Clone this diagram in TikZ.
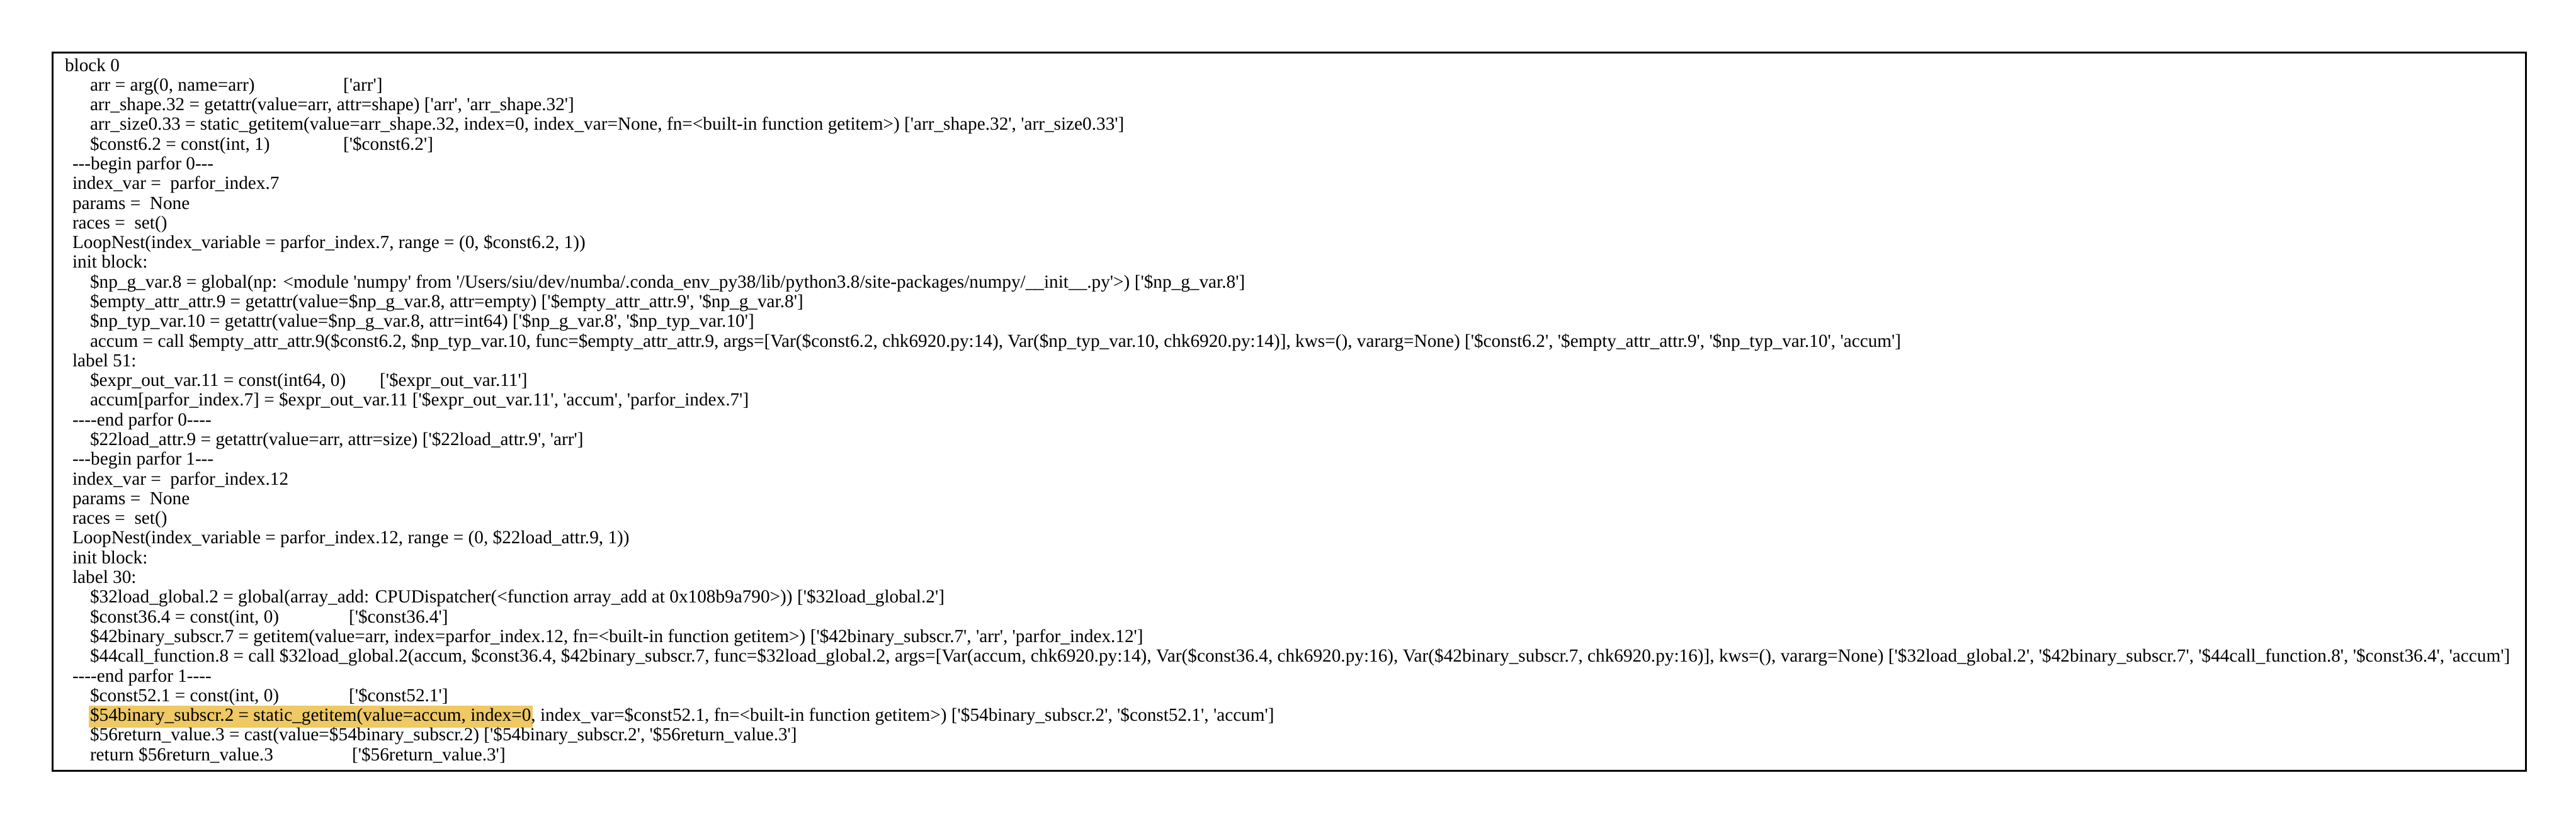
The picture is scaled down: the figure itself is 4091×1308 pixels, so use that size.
\documentclass[tikz,border=0pt]{standalone}
\usepackage{fontspec}
\newfontfamily\codefont{Liberation Serif}
\newlength\LwTen
\newcommand\LnLong{\$44call\_function.8 = call \$32load\_global.2(accum, \$const36.4, \$42binary\_subscr.7, func=\$32load\_global.2, args=[Var(accum, chk6920.py:14), Var(\$const36.4, chk6920.py:16), Var(\$42binary\_subscr.7, chk6920.py:16)], kws=(), vararg=None) ['\$32load\_global.2', '\$42binary\_subscr.7', '\$44call\_function.8', '\$const36.4', 'accum']}
\definecolor{hl}{HTML}{EEC964}
\begin{document}
\settowidth\LwTen{\codefont\fontsize{10pt}{12pt}\selectfont\LnLong}%
\pgfmathsetmacro\fs{10*768.6/\LwTen}%
\begin{tikzpicture}[x=0.2pt,y=-0.2pt]
\tikzset{ln/.style={anchor=base west, inner sep=0pt, font=\codefont\fontsize{\fs pt}{\fs pt}\selectfont}}
\useasboundingbox (0,0) rectangle (4091,1308);
\fill[white] (0,0) rectangle (4091,1308);
\draw[line width=0.6pt] (83,83) rectangle (4011,1224);
\fill[hl] (141,1121) rectangle (846,1156);
\def\yy#1{113+31.29*#1}
\node[ln] (l0) at (102,{\yy{0}}) {block 0};
\node[ln] (l1) at (142,{\yy{1}}) {arr = arg(0, name=arr)};
\node[ln] (l1b) at (544,{\yy{1}}) {['arr']};
\node[ln] (l2) at (142,{\yy{2}}) {arr\_shape.32 = getattr(value=arr, attr=shape) ['arr', 'arr\_shape.32']};
\node[ln] (l3) at (142,{\yy{3}}) {arr\_size0.33 = static\_getitem(value=arr\_shape.32, index=0, index\_var=None, fn=<built-in function getitem>) ['arr\_shape.32', 'arr\_size0.33']};
\node[ln] (l4) at (142,{\yy{4}}) {\$const6.2 = const(int, 1)};
\node[ln] (l4b) at (544,{\yy{4}}) {['\$const6.2']};
\node[ln] (l5) at (114,{\yy{5}}) {---begin parfor 0---};
\node[ln] (l6) at (114,{\yy{6}}) {index\_var = \ parfor\_index.7};
\node[ln] (l7) at (114,{\yy{7}}) {params = \ None};
\node[ln] (l8) at (114,{\yy{8}}) {races = \ set()};
\node[ln] (l9) at (114,{\yy{9}}) {LoopNest(index\_variable = parfor\_index.7, range = (0, \$const6.2, 1))};
\node[ln] (l10) at (114,{\yy{10}}) {init block:};
\node[ln] (l11) at (142,{\yy{11}}) {\$np\_g\_var.8 = global(np: <module 'numpy' from '/Users/siu/dev/numba/.conda\_env\_py38/lib/python3.8/site-packages/numpy/\_\_init\_\_.py'>) ['\$np\_g\_var.8']};
\node[ln] (l12) at (142,{\yy{12}}) {\$empty\_attr\_attr.9 = getattr(value=\$np\_g\_var.8, attr=empty) ['\$empty\_attr\_attr.9', '\$np\_g\_var.8']};
\node[ln] (l13) at (142,{\yy{13}}) {\$np\_typ\_var.10 = getattr(value=\$np\_g\_var.8, attr=int64) ['\$np\_g\_var.8', '\$np\_typ\_var.10']};
\node[ln] (l14) at (142,{\yy{14}}) {accum = call \$empty\_attr\_attr.9(\$const6.2, \$np\_typ\_var.10, func=\$empty\_attr\_attr.9, args=[Var(\$const6.2, chk6920.py:14), Var(\$np\_typ\_var.10, chk6920.py:14)], kws=(), vararg=None) ['\$const6.2', '\$empty\_attr\_attr.9', '\$np\_typ\_var.10', 'accum']};
\node[ln] (l15) at (114,{\yy{15}}) {label 51:};
\node[ln] (l16) at (142,{\yy{16}}) {\$expr\_out\_var.11 = const(int64, 0)};
\node[ln] (l16b) at (602,{\yy{16}}) {['\$expr\_out\_var.11']};
\node[ln] (l17) at (142,{\yy{17}}) {accum[parfor\_index.7] = \$expr\_out\_var.11 ['\$expr\_out\_var.11', 'accum', 'parfor\_index.7']};
\node[ln] (l18) at (114,{\yy{18}}) {----end parfor 0----};
\node[ln] (l19) at (142,{\yy{19}}) {\$22load\_attr.9 = getattr(value=arr, attr=size) ['\$22load\_attr.9', 'arr']};
\node[ln] (l20) at (114,{\yy{20}}) {---begin parfor 1---};
\node[ln] (l21) at (114,{\yy{21}}) {index\_var = \ parfor\_index.12};
\node[ln] (l22) at (114,{\yy{22}}) {params = \ None};
\node[ln] (l23) at (114,{\yy{23}}) {races = \ set()};
\node[ln] (l24) at (114,{\yy{24}}) {LoopNest(index\_variable = parfor\_index.12, range = (0, \$22load\_attr.9, 1))};
\node[ln] (l25) at (114,{\yy{25}}) {init block:};
\node[ln] (l26) at (114,{\yy{26}}) {label 30:};
\node[ln] (l27) at (142,{\yy{27}}) {\$32load\_global.2 = global(array\_add: CPUDispatcher(<function array\_add at 0x108b9a790>)) ['\$32load\_global.2']};
\node[ln] (l28) at (142,{\yy{28}}) {\$const36.4 = const(int, 0)};
\node[ln] (l28b) at (553,{\yy{28}}) {['\$const36.4']};
\node[ln] (l29) at (142,{\yy{29}}) {\$42binary\_subscr.7 = getitem(value=arr, index=parfor\_index.12, fn=<built-in function getitem>) ['\$42binary\_subscr.7', 'arr', 'parfor\_index.12']};
\node[ln] (l30) at (142,{\yy{30}}) {\LnLong};
\node[ln] (l31) at (114,{\yy{31}}) {----end parfor 1----};
\node[ln] (l32) at (142,{\yy{32}}) {\$const52.1 = const(int, 0)};
\node[ln] (l32b) at (553,{\yy{32}}) {['\$const52.1']};
\node[ln] (l33) at (142,{\yy{33}}) {\$54binary\_subscr.2 = static\_getitem(value=accum, index=0, index\_var=\$const52.1, fn=<built-in function getitem>) ['\$54binary\_subscr.2', '\$const52.1', 'accum']};
\node[ln] (l34) at (142,{\yy{34}}) {\$56return\_value.3 = cast(value=\$54binary\_subscr.2) ['\$54binary\_subscr.2', '\$56return\_value.3']};
\node[ln] (l35) at (142,{\yy{35}}) {return \$56return\_value.3};
\node[ln] (l35b) at (558,{\yy{35}}) {['\$56return\_value.3']};
\end{tikzpicture}
\end{document}
